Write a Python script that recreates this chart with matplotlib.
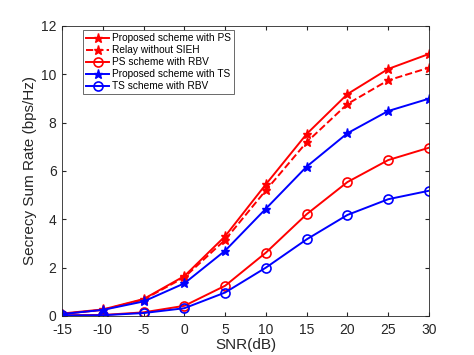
import matplotlib
matplotlib.use("Agg")
import matplotlib.pyplot as plt

snr = [-15, -10, -5, 0, 5, 10, 15, 20, 25, 30]
proposed_ps = [0.10, 0.27, 0.70, 1.65, 3.30, 5.45, 7.53, 9.18, 10.22, 10.84]
relay_no_sieh = [0.08, 0.25, 0.68, 1.60, 3.15, 5.20, 7.19, 8.77, 9.75, 10.27]
ps_rbv = [0.03, 0.04, 0.15, 0.42, 1.25, 2.62, 4.21, 5.54, 6.45, 6.96]
proposed_ts = [0.08, 0.25, 0.60, 1.35, 2.70, 4.44, 6.18, 7.56, 8.48, 8.99]
ts_rbv = [0.02, 0.03, 0.12, 0.32, 0.97, 2.00, 3.17, 4.18, 4.83, 5.18]

labels = ["Proposed scheme with PS", "Relay without SIEH", "PS scheme with RBV",
          "Proposed scheme with TS", "TS scheme with RBV"]
xticks = [-15, -10, -5, 0, 5, 10, 15, 20, 25, 30]
yticks = [0, 2, 4, 6, 8, 10, 12]

plt.rcParams['font.family'] = ['Liberation Sans', 'DejaVu Sans']
plt.rcParams['axes.unicode_minus'] = False

fig = plt.figure(figsize=(4.74, 3.55), dpi=100)
ax = fig.add_axes([0.131, 0.11, 0.774, 0.817])

red = (1, 0, 0)
blue = (0, 0, 1)
lw = 1.4
ax.plot(snr, proposed_ps, '-', color=red, lw=lw, marker='*', ms=6.5, label=labels[0])
ax.plot(snr, relay_no_sieh, '--', color=red, lw=lw, marker='*', ms=6.5, label=labels[1])
ax.plot(snr, ps_rbv, '-', color=red, lw=lw, marker='o', ms=6.5, mfc='none', mew=1.2, label=labels[2])
ax.plot(snr, proposed_ts, '-', color=blue, lw=lw, marker='*', ms=6.5, label=labels[3])
ax.plot(snr, ts_rbv, '-', color=blue, lw=lw, marker='o', ms=6.5, mfc='none', mew=1.2, label=labels[4])

ax.set_xlim(-15, 30)
ax.set_ylim(0, 12)
ax.set_xticks(xticks)
ax.set_yticks(yticks)
ax.tick_params(direction='in', top=True, right=True, labelsize=10, colors=(0.15, 0.15, 0.15), length=3)
ax.tick_params(axis='x', pad=5)
ax.tick_params(axis='y', pad=4)
for s in ax.spines.values():
    s.set_color((0.15, 0.15, 0.15))
    s.set_linewidth(0.6)
ax.set_xlabel("SNR(dB)", fontsize=11, color=(0.15, 0.15, 0.15), labelpad=1)
ax.set_ylabel("Secrecy Sum Rate (bps/Hz)", fontsize=11, color=(0.15, 0.15, 0.15), labelpad=3)

leg = ax.legend(loc='upper left', bbox_to_anchor=(0.057, 0.985), fontsize=7.3, frameon=True,
                fancybox=False, edgecolor=(0.15, 0.15, 0.15), borderpad=0.3,
                labelspacing=0.2, handlelength=2.3, handletextpad=0.3, borderaxespad=0)
leg.get_frame().set_linewidth(0.6)

fig.savefig("out.png", dpi=100)
